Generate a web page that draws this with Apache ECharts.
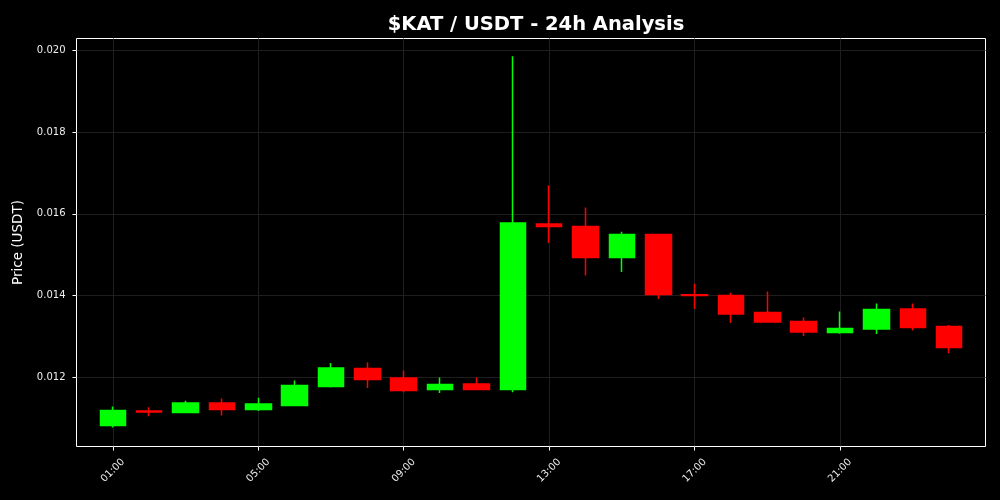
<!DOCTYPE html>
<html>
<head>
<meta charset="utf-8">
<style>
  html, body { margin: 0; padding: 0; background: #000; }
  #chart { width: 1000px; height: 500px; }
</style>
<script src="https://cdn.jsdelivr.net/npm/echarts@6/dist/echarts.min.js"></script>
</head>
<body>
<div id="chart"></div>
<script>
// Hourly candles (01:00 .. 00:00 next day)
const hours = ['01:00','02:00','03:00','04:00','05:00','06:00','07:00','08:00','09:00','10:00','11:00','12:00',
               '13:00','14:00','15:00','16:00','17:00','18:00','19:00','20:00','21:00','22:00','23:00','00:00'];
const opens  = [0.010826,0.011180,0.011144,0.011371,0.011217,0.011315,0.011780,0.012220,0.011983,0.011706,0.011836,0.011706,
                0.015750,0.015694,0.014936,0.015498,0.014023,0.014006,0.013590,0.013370,0.013101,0.013182,0.013671,0.013248];
const closes = [0.011193,0.011156,0.011371,0.011217,0.011347,0.011804,0.012228,0.011951,0.011682,0.011829,0.011706,0.015775,
                0.015694,0.014936,0.015498,0.014031,0.014006,0.013549,0.013353,0.013108,0.013199,0.013664,0.013223,0.012734];
const lows   = [0.010777,0.011047,0.011127,0.011070,0.011176,0.011300,0.011755,0.011738,0.011640,0.011616,0.011690,0.011640,
                0.015286,0.014495,0.014576,0.013916,0.013671,0.013328,0.013353,0.013010,0.013069,0.013059,0.013150,0.012594];
const highs  = [0.011290,0.011273,0.011430,0.011486,0.011503,0.011927,0.012350,0.012367,0.012171,0.012000,0.012000,0.019853,
                0.016697,0.016159,0.015565,0.015516,0.014292,0.014072,0.014104,0.013468,0.013615,0.013810,0.013810,0.013280];
const yTicks = [0.012, 0.014, 0.016, 0.018, 0.020];

// one empty hour of padding on each side
const categories = [''].concat(hours, [' ']);
const candles = [['-','-','-','-']].concat(
  hours.map((h, i) => [opens[i], closes[i], lows[i], highs[i]]),
  [['-','-','-','-']]
);
const labelIdx = new Set([1, 5, 9, 13, 17, 21]);

const chart = echarts.init(document.getElementById('chart'), null, { renderer: 'canvas' });
chart.setOption({
  backgroundColor: '#000000',
  animation: false,
  title: {
    text: '$KAT / USDT - 24h Analysis',
    left: 531, top: 10, textAlign: 'center',
    textStyle: { color: '#ffffff', fontSize: 19.5, fontWeight: 'bold', fontFamily: 'DejaVu Sans' }
  },
  grid: {
    left: 76.5, right: 14.5, top: 38.5, bottom: 53.5,
    show: true, borderColor: '#ffffff', borderWidth: 1, backgroundColor: '#000000'
  },
  xAxis: {
    type: 'category',
    data: categories,
    boundaryGap: false,
    axisLine: { show: false },
    axisTick: { show: true, length: 4, lineStyle: { color: '#ffffff' }, interval: (i) => labelIdx.has(i) },
    axisLabel: {
      color: '#eeeeee', fontSize: 10, fontFamily: 'DejaVu Sans', rotate: 45, margin: 24,
      align: 'center', verticalAlign: 'middle',
      interval: (i) => labelIdx.has(i)
    },
    splitLine: { show: true, lineStyle: { color: '#1e1e1e', width: 1 }, interval: (i) => labelIdx.has(i) }
  },
  yAxis: {
    type: 'value',
    min: 0.01031, max: 0.02029,
    axisLine: { show: false },
    name: 'Price (USDT)',
    nameLocation: 'middle',
    nameGap: 45,
    nameTextStyle: { color: '#ffffff', fontSize: 13.5, fontFamily: 'DejaVu Sans' },
    axisTick: { show: true, length: 4, lineStyle: { color: '#ffffff' }, customValues: yTicks },
    axisLabel: {
      color: '#eeeeee', fontSize: 10, fontFamily: 'DejaVu Sans', margin: 11,
      customValues: yTicks,
      formatter: (v) => v.toFixed(3)
    },
    splitLine: { show: true, lineStyle: { color: '#1e1e1e', width: 1 } }
  },
  series: [{
    type: 'candlestick',
    data: candles,
    barWidth: 26,
    itemStyle: {
      color: '#00ff00', color0: '#ff0000',
      borderColor: '#00ff00', borderColor0: '#ff0000',
      borderWidth: 1.5
    }
  }]
});
</script>
</body>
</html>
